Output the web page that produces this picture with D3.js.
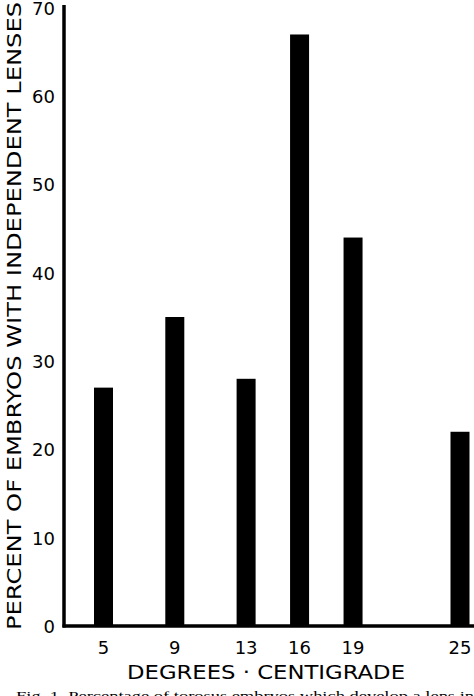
<!DOCTYPE html>
<html>
<head>
<meta charset="utf-8">
<script src="https://cdn.jsdelivr.net/npm/d3@7"></script>
<style>
  body { margin: 0; background: #fff; }
  svg { display: block; }
  .tick-label { font-family: "DejaVu Sans", sans-serif; fill: #000; }
</style>
</head>
<body>
<div id="chart"></div>
<script>
// Temperatures (degrees C) and percent of embryos with independent lenses
const temperatures = [5, 9, 13, 16, 19, 25];
const percents = [27, 35, 28, 67, 44, 22];
const yTicks = [0, 10, 20, 30, 40, 50, 60, 70];

const width = 474, height = 696;

const svg = d3.select("#chart").append("svg")
    .attr("width", width)
    .attr("height", height);

// Scales
const x = d3.scaleLinear().domain([5, 25]).range([103.5, 460]);
const y = d3.scaleLinear().domain([0, 70]).range([626, 8]);
const barWidth = 19;

// Bars
svg.append("g")
    .selectAll("rect")
    .data(temperatures)
    .join("rect")
    .attr("x", (d) => x(d) - barWidth / 2)
    .attr("y", (d, i) => y(percents[i]))
    .attr("width", barWidth)
    .attr("height", (d, i) => y(0) - y(percents[i]))
    .attr("fill", "#000");

// Axis lines
svg.append("line")
    .attr("x1", 64).attr("x2", 64)
    .attr("y1", 5).attr("y2", 627.5)
    .attr("stroke", "#000").attr("stroke-width", 3.5);
svg.append("line")
    .attr("x1", 62.5).attr("x2", width)
    .attr("y1", 626).attr("y2", 626)
    .attr("stroke", "#000").attr("stroke-width", 3.5);

// Y tick labels
svg.append("g")
    .selectAll("text")
    .data(yTicks)
    .join("text")
    .attr("class", "tick-label")
    .attr("x", 55)
    .attr("y", (d) => y(d))
    .attr("dy", "0.38em")
    .attr("text-anchor", "end")
    .attr("font-size", 18)
    .text((d) => d);

// X tick labels
svg.append("g")
    .selectAll("text")
    .data(temperatures)
    .join("text")
    .attr("class", "tick-label")
    .attr("x", (d) => x(d))
    .attr("y", 654)
    .attr("text-anchor", "middle")
    .attr("font-size", 18)
    .text((d) => d);

// Axis titles
svg.append("text")
    .attr("x", 266)
    .attr("y", 679)
    .attr("text-anchor", "middle")
    .attr("font-family", "DejaVu Sans, sans-serif")
    .attr("font-size", 20)
    .attr("textLength", 278)
    .attr("lengthAdjust", "spacingAndGlyphs")
    .text("DEGREES · CENTIGRADE");

svg.append("text")
    .attr("transform", "translate(21,316) rotate(-90)")
    .attr("text-anchor", "middle")
    .attr("font-family", "DejaVu Sans, sans-serif")
    .attr("font-size", 20)
    .attr("textLength", 628)
    .attr("lengthAdjust", "spacingAndGlyphs")
    .text("PERCENT OF EMBRYOS WITH INDEPENDENT LENSES");

// Caption (cut off at bottom edge)
svg.append("text")
    .attr("x", 16)
    .attr("y", 700)
    .attr("font-family", "Liberation Serif, serif")
    .attr("font-size", 13)
    .attr("textLength", 458)
    .attr("lengthAdjust", "spacingAndGlyphs")
    .text("Fig. 1.   Percentage of torosus embryos which develop a lens in");
</script>
</body>
</html>
